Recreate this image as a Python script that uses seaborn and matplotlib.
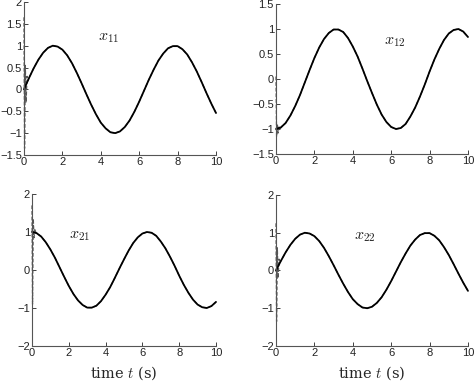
import numpy as np
import pandas as pd
import matplotlib
matplotlib.use("Agg")
import matplotlib.pyplot as plt
import seaborn as sns

# ---- data ----
t = [0.0, 0.25, 0.5, 0.75, 1.0, 1.25, 1.5, 1.75, 2.0, 2.25, 2.5, 2.75, 3.0, 3.25,
     3.5, 3.75, 4.0, 4.25, 4.5, 4.75, 5.0, 5.25, 5.5, 5.75, 6.0, 6.25, 6.5, 6.75,
     7.0, 7.25, 7.5, 7.75, 8.0, 8.25, 8.5, 8.75, 9.0, 9.25, 9.5, 9.75, 10.0]

x11 = [0.00, 0.25, 0.48, 0.68, 0.84, 0.95, 1.00, 0.98, 0.91, 0.78, 0.60, 0.38, 0.14,
       -0.11, -0.35, -0.57, -0.76, -0.89, -0.98, -1.00, -0.96, -0.86, -0.71, -0.51,
       -0.28, -0.03, 0.22, 0.45, 0.66, 0.82, 0.94, 0.99, 0.99, 0.92, 0.80, 0.62, 0.41,
       0.17, -0.08, -0.32, -0.54]
x12 = [-1.00, -0.97, -0.88, -0.73, -0.54, -0.32, -0.07, 0.18, 0.42, 0.63, 0.80, 0.92,
       0.99, 0.99, 0.94, 0.82, 0.65, 0.45, 0.21, -0.04, -0.28, -0.51, -0.71, -0.86,
       -0.96, -1.00, -0.98, -0.90, -0.75, -0.57, -0.35, -0.11, 0.15, 0.39, 0.60, 0.78,
       0.91, 0.98, 1.00, 0.95, 0.84]
x21 = [1.00, 0.97, 0.88, 0.73, 0.54, 0.32, 0.07, -0.18, -0.42, -0.63, -0.80, -0.92,
       -0.99, -0.99, -0.94, -0.82, -0.65, -0.45, -0.21, 0.04, 0.28, 0.51, 0.71, 0.86,
       0.96, 1.00, 0.98, 0.90, 0.75, 0.57, 0.35, 0.11, -0.15, -0.39, -0.60, -0.78,
       -0.91, -0.98, -1.00, -0.95, -0.84]
x22 = list(x11)

# estimate transients near t = 0
t_tr = [0.0, 0.03, 0.07, 0.11, 0.16, 0.21]
e11_tr = [1.65, -1.35, 0.55, -0.30, 0.30, 0.20]
e12_tr = [0.05, -1.15, -0.90, -1.08, -0.96, -1.00]
e21_tr = [1.70, -0.90, 1.35, 0.85, 1.08, 0.98]
e22_tr = [1.25, -1.35, 0.60, -0.20, 0.30, 0.20]

names = ["$x_{11}$", "$x_{12}$", "$x_{21}$", "$x_{22}$"]
true_vals = [x11, x12, x21, x22]
est_tr = [e11_tr, e12_tr, e21_tr, e22_tr]
ylims = [(-1.5, 2), (-1.5, 1.5), (-2, 2), (-2, 2)]
yticks = [np.arange(-1.5, 2.01, 0.5), np.arange(-1.5, 1.51, 0.5), [-2, -1, 0, 1, 2], [-2, -1, 0, 1, 2]]
label_pos = [(3.85, 1.19), (5.63, 0.76), (2.0, 0.92), (4.06, 0.89)]
positions = [
    [0.0506, 0.5932, 0.4051, 0.4016],
    [0.5823, 0.5958, 0.4050, 0.3937],
    [0.0675, 0.0919, 0.3882, 0.3989],
    [0.5823, 0.0919, 0.4050, 0.3963],
]

sns.set_style("ticks")
plt.rcParams["font.family"] = ["Liberation Sans", "DejaVu Sans"]
plt.rcParams["mathtext.fontset"] = "cm"
plt.rcParams["axes.unicode_minus"] = True

fig = plt.figure(figsize=(4.74, 3.81), dpi=100)

for i in range(4):
    ax = fig.add_axes(positions[i])
    df_true = pd.DataFrame({"t": t, "v": true_vals[i]})
    t_est = t_tr + t[1:]
    v_est = est_tr[i] + true_vals[i][1:]
    df_est = pd.DataFrame({"t": t_est, "v": v_est})
    sns.lineplot(data=df_est, x="t", y="v", ax=ax, color="#555555", lw=0.9,
                 linestyle=(0, (3, 1.5)), estimator=None, sort=False)
    sns.lineplot(data=df_true, x="t", y="v", ax=ax, color="black", lw=1.3,
                 estimator=None, sort=False)
    for ln in ax.lines:
        ln.set_clip_on(False)
    ax.set_xlim(0, 10)
    ax.set_ylim(*ylims[i])
    ax.set_xticks([0, 2, 4, 6, 8, 10])
    ax.set_yticks(yticks[i])
    ax.set_yticklabels([("%g" % v).replace("-", "\u2212") for v in yticks[i]])
    ax.set_xlabel("")
    ax.set_ylabel("")
    for s in ["top", "right"]:
        ax.spines[s].set_visible(False)
    for s in ["left", "bottom"]:
        ax.spines[s].set_color("#555555")
        ax.spines[s].set_linewidth(0.8)
    ax.tick_params(direction="in", length=3, width=0.6, labelsize=8, pad=1.5,
                   colors="#222222")
    ax.text(label_pos[i][0], label_pos[i][1], names[i], fontsize=11.5,
            ha="left", va="center")
    if i >= 2:
        ax.text(0.5, -0.12, "time $t$ (s)", transform=ax.transAxes,
                ha="center", va="top", fontsize=10.5, family="DejaVu Serif")

fig.savefig("out.png", dpi=100)
